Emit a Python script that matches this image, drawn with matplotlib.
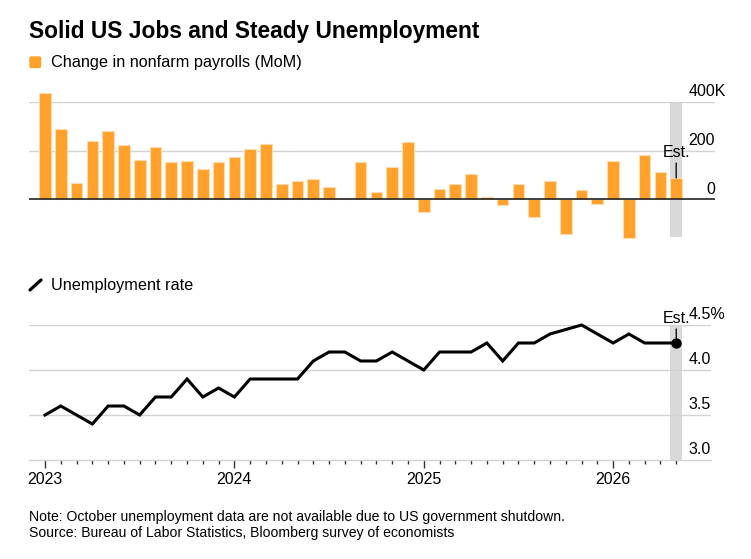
import matplotlib.pyplot as plt
import numpy as np
from matplotlib.patches import FancyBboxPatch
from matplotlib.lines import Line2D

plt.rcParams['font.family'] = ['Liberation Sans', 'DejaVu Sans']

# monthly index, Jan 2023 .. May 2026 (last month is the estimate)
months = np.arange(41)
payrolls = [435, 290, 66, 240, 280, 223, 161, 217, 154, 159, 126, 153,
            174, 206, 228, 62, 77, 86, 51, 7, 154, 32, 132, 236,
            -50, 41, 65, 106, 11, -21, 62, -72, 74, -142, 40, -18,
            159, -157, 183, 114, 88]
# October 2025 missing (shutdown)
unemployment = [3.5, 3.6, 3.5, 3.4, 3.6, 3.6, 3.5, 3.7, 3.7, 3.9, 3.7, 3.8,
                3.7, 3.9, 3.9, 3.9, 3.9, 4.1, 4.2, 4.2, 4.1, 4.1, 4.2, 4.1,
                4.0, 4.2, 4.2, 4.2, 4.3, 4.1, 4.3, 4.3, 4.4, None, 4.5, 4.4,
                4.3, 4.4, 4.3, 4.3, 4.3]
year_ticks = [0, 12, 24, 36]
year_labels = ['2023', '2024', '2025', '2026']
pay_ticks = [0, 200, 400]
pay_labels = ['0', '200', '400K']
rate_ticks = [3.0, 3.5, 4.0, 4.5]
rate_labels = ['3.0', '3.5', '4.0', '4.5%']

ORANGE = '#ffa12b'
SHADE = '#d9d9d9'
GRID = '#d2d2d2'
FS = 11.5

W, H = 751, 559
fig = plt.figure(figsize=(W / 100, H / 100), dpi=100)


def box(left, top, right, bottom):
    return [left / W, 1 - bottom / H, (right - left) / W, (bottom - top) / H]


def right_labels(ax, ticks, labels, suffix_w):
    # numbers right-aligned at the axes edge, unit suffix hangs past it
    for v, s in zip(ticks, labels):
        dx = suffix_w if not s[-1].isdigit() else 0
        ax.annotate(s, xy=(1, v), xycoords=('axes fraction', 'data'),
                    xytext=(dx, 4), textcoords='offset points', ha='right',
                    va='baseline', fontsize=FS, annotation_clip=False)


# ---- payrolls panel ----
ax1 = fig.add_axes(box(29, 102, 715, 237))
ax1.set_xlim(-1.014, 42.46)
ax1.set_ylim(-154, 400)
ax1.axvspan(months[-1] - 0.37, months[-1] + 0.37, color=SHADE, lw=0, zorder=0)
for v in pay_ticks[1:]:
    ax1.axhline(v, color=GRID, lw=1, zorder=1)
ax1.bar(months, payrolls, width=0.74, color=ORANGE, edgecolor='#ffdcae',
        linewidth=0.8, zorder=2, clip_on=False)
ax1.axhline(0, color='#222222', lw=1.2, zorder=3)
ax1.axis('off')
right_labels(ax1, pay_ticks, pay_labels, 0.667 * FS)
ax1.annotate('', xy=(months[-1], payrolls[-1]),
             xytext=(0, 15), textcoords='offset pixels',
             arrowprops=dict(arrowstyle='-', lw=1, color='#111111',
                             shrinkA=0, shrinkB=0))
ax1.annotate('Est.', xy=(months[-1], payrolls[-1]), xytext=(0, 21),
             textcoords='offset pixels', ha='center', va='baseline',
             fontsize=FS)

# ---- unemployment panel ----
ax2 = fig.add_axes(box(29, 325, 711, 460))
ax2.set_xlim(-1.014, 42.2)
ax2.set_ylim(3.0, 4.5)
ax2.axvspan(months[-1] - 0.37, months[-1] + 0.37, ymax=0.99, color=SHADE,
            lw=0, zorder=0)
for v in rate_ticks[1:]:
    ax2.axhline(v, color=GRID, lw=1, zorder=1)
rate = np.array([np.nan if u is None else u for u in unemployment])
ok = ~np.isnan(rate)
ax2.plot(months[ok], rate[ok], color='black', lw=2.2, zorder=3,
         solid_joinstyle='miter', clip_on=False)
ax2.plot(months[-1], rate[-1], 'o', color='black', ms=6.5, zorder=4)
for s in ['top', 'left', 'right']:
    ax2.spines[s].set_visible(False)
ax2.spines['bottom'].set_color(GRID)
ax2.spines['bottom'].set_linewidth(1)
ax2.set_yticks([])
ax2.set_xticks(year_ticks)
ax2.set_xticklabels(year_labels, fontsize=FS)
ax2.set_xticks(months, minor=True)
ax2.tick_params(axis='x', which='major', length=6, width=1, color='#333333',
                pad=3)
ax2.tick_params(axis='x', which='minor', length=3, width=1, color='#333333')
right_labels(ax2, rate_ticks, rate_labels, 0.889 * FS)
ax2.annotate('', xy=(months[-1], rate[-1]),
             xytext=(0, 14), textcoords='offset pixels',
             arrowprops=dict(arrowstyle='-', lw=1, color='#111111',
                             shrinkA=0, shrinkB=0))
ax2.annotate('Est.', xy=(months[-1], rate[-1]), xytext=(0, 20),
             textcoords='offset pixels', ha='center', va='baseline',
             fontsize=FS)

# ---- title, legend keys, notes ----
fig.text(29 / W, 1 - 38 / H, 'Solid US Jobs and Steady Unemployment',
         fontsize=16.4, fontweight='bold', va='baseline')
fig.patches.append(FancyBboxPatch((30 / W, 1 - 67.5 / H), 10.5 / W, 10.5 / H,
                                  boxstyle='round,pad=0,rounding_size=0.002',
                                  transform=fig.transFigure, color=ORANGE))
fig.text(51 / W, 1 - 66.5 / H, 'Change in nonfarm payrolls (MoM)',
         fontsize=11.7, va='baseline')
fig.lines.append(Line2D([30 / W, 41 / W], [1 - 290 / H, 1 - 280 / H],
                        transform=fig.transFigure, color='black', lw=2.3,
                        solid_capstyle='round'))
fig.text(51 / W, 1 - 290 / H, 'Unemployment rate', fontsize=11.7,
         va='baseline')
fig.text(29 / W, 1 - 521.5 / H,
         'Note: October unemployment data are not available due to US '
         'government shutdown.', fontsize=10.1, va='baseline')
fig.text(29 / W, 1 - 537.5 / H,
         'Source: Bureau of Labor Statistics, Bloomberg survey of economists',
         fontsize=10.1, va='baseline')

fig.savefig('out.png', dpi=100)
